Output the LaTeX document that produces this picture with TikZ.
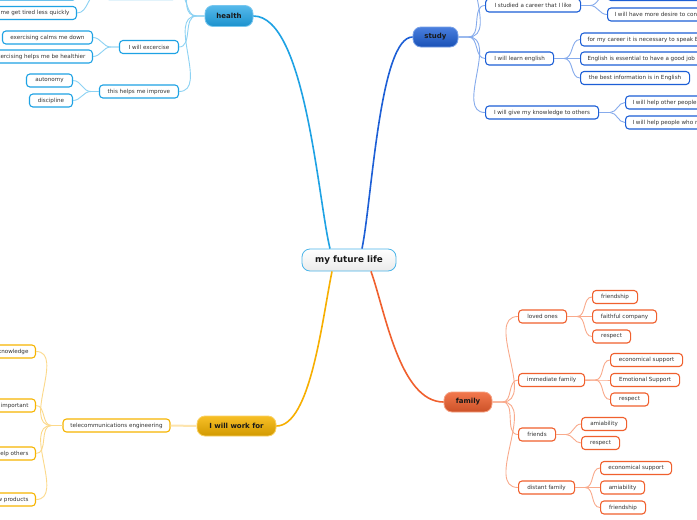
\documentclass[tikz,border=0pt]{standalone}
\usepackage{fontspec}
\setmainfont{DejaVu Sans}
\usetikzlibrary{calc}
\definecolor{cH}{HTML}{1EA2E4}
\definecolor{cS}{HTML}{1D5FD6}
\definecolor{cW}{HTML}{F6B400}
\definecolor{cF}{HTML}{F0602E}
\definecolor{lH}{HTML}{8DD2F3}
\definecolor{lS}{HTML}{86ABEC}
\definecolor{lW}{HTML}{FCD98A}
\definecolor{lF}{HTML}{F9AA8C}
\definecolor{txt}{HTML}{333333}
\tikzset{
 leaf/.style={draw, line width=1.1pt, rounded corners=3.5pt, fill=white, minimum height=13pt,
   inner xsep=7pt, inner ysep=0pt, text=txt, font=\fontsize{5.6}{6.5}\selectfont},
 leafH/.style={leaf, draw=cH},
 leafS/.style={leaf, draw=cS},
 leafW/.style={leaf, draw=cW},
 leafF/.style={leaf, draw=cF},
 mainbox/.style={rounded corners=8pt, minimum height=20pt, inner sep=0pt,
   font=\fontsize{7}{8}\selectfont\bfseries, text=black!90, line width=0.8pt},
 conH/.style={draw=lH, line width=0.9pt},
 conS/.style={draw=lS, line width=0.9pt},
 conW/.style={draw=lW, line width=0.9pt},
 conF/.style={draw=lF, line width=0.9pt},
 mainH/.style={draw=cH, line width=1.6pt},
 mainS/.style={draw=cS, line width=1.6pt},
 mainW/.style={draw=cW!90!orange, line width=1.6pt},
 mainF/.style={draw=cF, line width=1.6pt},
}
\begin{document}
\begin{tikzpicture}[x=1pt,y=-1pt]
\useasboundingbox (0,0) rectangle (697,520);
\clip (0,0) rectangle (697,520);
\fill[white] (0,0) rectangle (697,520);

% ---------- main nodes
\node[mainbox, draw=cH!60!black!30!cH, top color=white, bottom color=black!8, draw=cH!80, minimum width=94pt, minimum height=22pt,
  font=\fontsize{8.8}{10}\selectfont\bfseries] (root) at (349,260) {my future life};
\node[mainbox, top color=cH!75, bottom color=cH!90!black, draw=cH!60, minimum width=48pt, minimum height=21pt] (health) at (229,16) {health};
\node[mainbox, top color=cS!80, bottom color=cS!85!black, draw=cS!60, minimum width=45pt] (study) at (435.5,37) {study};
\node[mainbox, top color=cW!85, bottom color=cW!85!black, draw=cW!60, minimum width=79pt] (work) at (236.5,426) {I will work for};
\node[mainbox, top color=cF!85, bottom color=cF!85!black, draw=cF!60, minimum width=48pt] (family) at (468,402) {family};

% ---------- main connectors
\draw[mainH] ($(root.north)+(-19,0)$) .. controls +(-12,-49) and +(52,0) .. (health.east);
\draw[mainS] ($(root.north)+(13,0)$) .. controls +(10,-49) and +(-33,0) .. (study.west);
\draw[mainW] ($(root.south)+(-17,0)$) .. controls +(-10,49) and +(34,0) .. (work.east);
\draw[mainF] ($(root.south)+(22,0)$) .. controls +(14,39) and +(-44,0) .. (family.west);

% ---------- health subtree
\node[leafH, anchor=east, minimum width=71pt] (h0) at (177,-7) {};
\node[leafH, anchor=east, minimum width=90pt] (h0a) at (77,-6.5) {};
\node[leafH, anchor=east] (h0b) at (77,13) {makes me get tired less quickly};
\node[leafH, anchor=east, minimum width=59pt] (he) at (179,47) {I will excercise};
\node[leafH, anchor=east, minimum width=90pt] (he1) at (93,37.5) {exercising calms me down};
\node[leafH, anchor=east] (he2) at (93,56.5) {exercising helps me be healthier};
\node[leafH, anchor=east, minimum width=79pt] (hi) at (179,91.5) {this helps me improve};
\node[leafH, anchor=east, minimum width=46pt] (hi1) at (73,80.5) {autonomy};
\node[leafH, anchor=east, minimum width=43pt] (hi2) at (73,100.5) {discipline};
\coordinate (hcut) at (179,-45);

\foreach \c in {h0,he,hi}
  \draw[conH] (health.west) -- ++(-8,0) to[out=180,in=0] (\c.east);
\draw[conH] (health.west) -- ++(-8,0) to[out=180,in=0] (hcut);
\foreach \c in {h0a,h0b}
  \draw[conH] (h0.west) -- ++(-6,0) to[out=180,in=0] (\c.east);
\foreach \c in {he1,he2}
  \draw[conH] (he.west) -- ++(-8,0) to[out=180,in=0] (\c.east);
\foreach \c in {hi1,hi2}
  \draw[conH] (hi.west) -- ++(-8,0) to[out=180,in=0] (\c.east);

% ---------- study subtree
\node[leafS, anchor=west, minimum width=95pt] (sa) at (485,5.5) {I studied a career that I like};
\node[leafS, anchor=west, minimum width=120pt] (sa0) at (607,-6) {};
\node[leafS, anchor=west] (sa1) at (607,14.5) {I will have more desire to continue};
\node[leafS, anchor=west, minimum width=68pt] (sl) at (485,58.5) {I will learn english};
\node[leafS, anchor=west] (sl1) at (580,39.5) {for my career it is necessary to speak English};
\node[leafS, anchor=west] (sl2) at (580,58.5) {English is essential to have a good job};
\node[leafS, anchor=west, minimum width=109pt] (sl3) at (580,78) {the best information is in English};
\node[leafS, anchor=west, minimum width=113pt] (sg) at (485,112.5) {I will give my knowledge to others};
\node[leafS, anchor=west] (sg1) at (625,102.5) {I will help other people};
\node[leafS, anchor=west] (sg2) at (625,122.5) {I will help people who need it};
\coordinate (scut) at (485,-45);

\foreach \c in {sa,sl,sg}
  \draw[conS] (study.east) -- ++(10,0) to[out=0,in=180] (\c.west);
\draw[conS] (study.east) -- ++(10,0) to[out=0,in=180] (scut);
\foreach \c in {sa0,sa1}
  \draw[conS] (sa.east) -- ++(9,0) to[out=0,in=180] (\c.west);
\foreach \c in {sl1,sl2,sl3}
  \draw[conS] (sl.east) -- ++(10,0) to[out=0,in=180] (\c.west);
\foreach \c in {sg1,sg2}
  \draw[conS] (sg.east) -- ++(11,0) to[out=0,in=180] (\c.west);

% ---------- work subtree
\node[leafW, minimum width=107pt] (wt) at (116.5,425.5) {telecommunications engineering};
\node[leafW, anchor=east] (w1) at (36,351.5) {I will apply my knowledge};
\node[leafW, anchor=east] (w2) at (36,405.5) {I will do something important};
\node[leafW, anchor=east] (w3) at (36,453.5) {I will help others};
\node[leafW, anchor=east] (w4) at (36,499.5) {I will create new products};

\draw[draw=lW!70, line width=2pt] (work.west) -- (wt.east);
\foreach \c in {w1,w2,w3,w4}
  \draw[conW] (wt.west) -- ++(-11,0) to[out=180,in=0] (\c.east);

% ---------- family subtree
\node[leafF, anchor=west, minimum width=48pt] (fl) at (518,316.5) {loved ones};
\node[leafF, anchor=west, minimum width=45pt] (fl1) at (592,297) {friendship};
\node[leafF, anchor=west, minimum width=64pt] (fl2) at (592,316.5) {faithful company};
\node[leafF, anchor=west, minimum width=38pt] (fl3) at (592,336.5) {respect};
\node[leafF, anchor=west, minimum width=66pt] (fi) at (518,380) {immediate family};
\node[leafF, anchor=west, minimum width=72pt] (fi1) at (610,360) {economical support};
\node[leafF, anchor=west, minimum width=69pt] (fi2) at (610,380) {Emotional Support};
\node[leafF, anchor=west, minimum width=38pt] (fi3) at (610,399.5) {respect};
\node[leafF, anchor=west, minimum width=37pt] (ff) at (518,434.5) {friends};
\node[leafF, anchor=west, minimum width=45pt] (ff1) at (581,424) {amiability};
\node[leafF, anchor=west, minimum width=38pt] (ff2) at (581,443) {respect};
\node[leafF, anchor=west, minimum width=56pt] (fd) at (518,487.5) {distant family};
\node[leafF, anchor=west, minimum width=71pt] (fd1) at (600,468) {economical support};
\node[leafF, anchor=west, minimum width=44pt] (fd2) at (600,487.5) {amiability};
\node[leafF, anchor=west, minimum width=45pt] (fd3) at (600,507.5) {friendship};

\foreach \c in {fl,fi,ff,fd}
  \draw[conF] (family.east) -- ++(10,0) to[out=0,in=180] (\c.west);
\foreach \c in {fl1,fl2,fl3}
  \draw[conF] (fl.east) -- ++(10,0) to[out=0,in=180] (\c.west);
\foreach \c in {fi1,fi2,fi3}
  \draw[conF] (fi.east) -- ++(10,0) to[out=0,in=180] (\c.west);
\foreach \c in {ff1,ff2}
  \draw[conF] (ff.east) -- ++(10,0) to[out=0,in=180] (\c.west);
\foreach \c in {fd1,fd2,fd3}
  \draw[conF] (fd.east) -- ++(10,0) to[out=0,in=180] (\c.west);
\end{tikzpicture}
\end{document}
